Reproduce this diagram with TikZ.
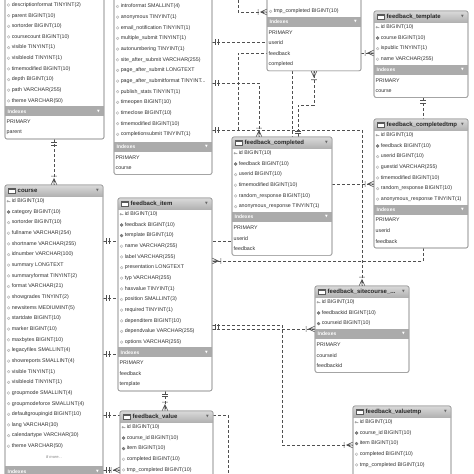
\documentclass[tikz,border=0pt]{standalone}
\usepackage{fontspec}
\setmainfont{Liberation Sans}
\newfontfamily\symf{DejaVu Sans}
\usetikzlibrary{fit}
\pgfdeclarelayer{bg}
\pgfdeclarelayer{lines}
\pgfsetlayers{bg,lines,main}
\definecolor{framec}{HTML}{A4A4A4}
\definecolor{titletop}{HTML}{DADADA}
\definecolor{titlebot}{HTML}{B2B2B2}
\definecolor{idxc}{HTML}{ABABAB}
\definecolor{txtc}{HTML}{303030}
\definecolor{linec}{HTML}{505050}
\definecolor{keyc}{HTML}{9A9A9A}
\definecolor{fkc}{HTML}{8A8A8A}
\tikzset{
 rowtext/.style={anchor=west, inner sep=0pt, font=\fontsize{5.3}{6}\selectfont, text=txtc},
 moretext/.style={anchor=center, inner sep=0pt, font=\fontsize{4}{5}\selectfont\itshape, text=gray},
 titletext/.style={anchor=west, inner sep=0pt, font=\fontsize{6}{7}\selectfont\bfseries, text=black!85},
 idxtext/.style={anchor=west, inner sep=0pt, font=\fontsize{5}{6}\selectfont\bfseries, text=white},
 tri/.style={inner sep=0pt, font=\symf\fontsize{3.5}{4}\selectfont},
 conn/.style={draw=linec, dash pattern=on 3pt off 2pt, line width=.6pt},
 mk/.style={draw=linec, line width=.6pt, solid},
 tframe/.style={draw=framec, line width=.7pt, fill=white, rounded corners=2pt, inner sep=0pt},
}
\def\dbdash{-}
\newcommand\tdots{...}
\newcommand\rowicon[3]{%
 \if k#1
   \draw[keyc, line width=.45pt] (#2-0.8,#3) circle (0.8pt) (#2,#3) -- (#2+1.7,#3) (#2+1.3,#3)--(#2+1.3,#3+0.9);
 \else\if f#1
   \draw[fill=fkc, draw=fkc!70!black, line width=.3pt] (#2,#3-1.5)--(#2+1.5,#3)--(#2,#3+1.5)--(#2-1.5,#3)--cycle;
 \else
   \draw[fill=gray!12, draw=gray!65, line width=.3pt] (#2,#3-1.4)--(#2+1.4,#3)--(#2,#3+1.4)--(#2-1.4,#3)--cycle;
 \fi\fi}
% #1 name #2 x1 #3 x2 #4 top #5 title #6 hidden rows #7 rows #8 index rows #9 extra
\newcommand\dbtable[9]{%
  \def\dbidx{#8}\def\dbtitle{#5}%
  \xdef\nr{0}\foreach \ra/\rb [count=\rc] in {#7} {\xdef\nr{\rc}}%
  \xdef\ni{0}%
  \ifx\dbidx\empty\else\ifx\dbidx\dbdash\else
     \foreach \ra [count=\rc] in {#8} {\xdef\ni{\rc}}\fi\fi
  \pgfmathsetmacro\barT{#4+11+10.65*(#6+\nr)+#9}%
  \pgfmathsetmacro\bot{\barT+10+10.65*\ni+1.5}%
  \ifx\dbidx\empty \pgfmathsetmacro\bot{\barT+20}\fi
  \node[tframe, fit={(#2,#4) (#3,\bot)}] (#1) {};
  \begin{scope}
    \clip[rounded corners=2pt] (#2,#4) rectangle (#3,\bot);
    \fill[top color=titletop, bottom color=titlebot] (#2,#4) rectangle (#3,#4+11);
    \ifx\dbidx\empty\else \fill[idxc] (#2,\barT) rectangle (#3,\barT+10); \fi
  \end{scope}
  \draw[framec, line width=.7pt, rounded corners=2pt] (#2,#4) rectangle (#3,\bot);
  \ifx\dbtitle\empty\else
    \draw[gray!70!black, fill=white, line width=.4pt] (#2+3.5,#4+2.8) rectangle (#2+10,#4+8.4);
    \draw[gray!70!black, line width=.3pt] (#2+3.5,#4+4.2) -- (#2+10,#4+4.2);
    \node[titletext] at (#2+12.5,#4+5.7) {#5};
    \node[tri, text=gray!80!black] at (#3-5.5,#4+5.5) {▼};
  \fi
  \foreach \ra/\rb [count=\rc from 0] in {#7} {%
    \pgfmathsetmacro\yy{#4+16.3+10.65*(#6+\rc)}%
    \if m\ra
      \node[moretext] at ({(#2+#3)/2},\yy) {\rb};
    \else
      \rowicon{\ra}{#2+3.6}{\yy}
      \node[rowtext] at (#2+6.6,\yy) {\rb};
    \fi}
  \ifx\dbidx\empty\else
    \node[idxtext] at (#2+2.5,\barT+5.2) {Indexes};
    \node[tri, text=white] at (#3-5.5,\barT+5) {▼};
    \ifx\dbidx\dbdash\else
      \foreach \ra [count=\rc from 0] in {#8} {%
        \node[rowtext] at (#2+1.5,\barT+10+5.6+10.65*\rc) {\ra};}
    \fi
  \fi
}
\newcommand\many[2]{\begin{scope}[shift={(#1)},rotate=#2]\draw[mk] (0,2.8)--(6,0)--(0,-2.8) (0,0)--(6,0) (8.5,2.8)--(8.5,-2.8);\end{scope}}
\newcommand\one[2]{\begin{scope}[shift={(#1)},rotate=#2]\draw[mk] (3,2.8)--(3,-2.8) (5.5,2.8)--(5.5,-2.8);\end{scope}}
\begin{document}
\begin{tikzpicture}[x=1pt,y=-1pt]
\useasboundingbox (0,0) rectangle (474,474);
\begin{pgfonlayer}{bg}\fill[white] (0,0) rectangle (474,474);\end{pgfonlayer}

\dbtable{cc}{5}{104}{-53.9}{}{4}{o/descriptionformat TINYINT(2), o/parent BIGINT(10), o/sortorder BIGINT(10), o/coursecount BIGINT(10), o/visible TINYINT(1), o/visibleold TINYINT(1), o/timemodified BIGINT(10), o/depth BIGINT(10), o/path VARCHAR(255), o/theme VARCHAR(50)}{PRIMARY, parent}{0}

\dbtable{fb}{114}{212}{-52.4}{}{4}{o/introformat SMALLINT(4), o/anonymous TINYINT(1), o/email\_notification TINYINT(1), o/multiple\_submit TINYINT(1), o/autonumbering TINYINT(1), o/site\_after\_submit VARCHAR(255), o/page\_after\_submit LONGTEXT, o/page\_after\_submitformat TINYINT\tdots, o/publish\_stats TINYINT(1), o/timeopen BIGINT(10), o/timeclose BIGINT(10), o/timemodified BIGINT(10), o/completionsubmit TINYINT(1)}{PRIMARY, course}{2}

\dbtable{tr}{267}{361}{-47.5}{}{4}{o/tmp\_completed BIGINT(10)}{PRIMARY, userid, feedback, completed}{0}

\dbtable{tp}{374}{468}{11}{feedback\_template}{0}{k/id BIGINT(10), f/course BIGINT(10), o/ispublic TINYINT(1), o/name VARCHAR(255)}{PRIMARY, course}{0}

\dbtable{ct}{374}{468}{119}{feedback\_completedtmp}{0}{k/id BIGINT(10), f/feedback BIGINT(10), o/userid BIGINT(10), o/guestid VARCHAR(255), o/timemodified BIGINT(10), o/random\_response BIGINT(10), o/anonymous\_response TINYINT(1)}{PRIMARY, userid, feedback}{0}

\dbtable{cp}{232}{332}{137}{feedback\_completed}{0}{k/id BIGINT(10), f/feedback BIGINT(10), o/userid BIGINT(10), o/timemodified BIGINT(10), o/random\_response BIGINT(10), o/anonymous\_response TINYINT(1)}{PRIMARY, userid, feedback}{0}

\dbtable{co}{5}{103}{185}{course}{0}{k/id BIGINT(10), f/category BIGINT(10), o/sortorder BIGINT(10), o/fullname VARCHAR(254), o/shortname VARCHAR(255), o/idnumber VARCHAR(100), o/summary LONGTEXT, o/summaryformat TINYINT(2), o/format VARCHAR(21), o/showgrades TINYINT(2), o/newsitems MEDIUMINT(5), o/startdate BIGINT(10), o/marker BIGINT(10), o/maxbytes BIGINT(10), o/legacyfiles SMALLINT(4), o/showreports SMALLINT(4), o/visible TINYINT(1), o/visibleold TINYINT(1), o/groupmode SMALLINT(4), o/groupmodeforce SMALLINT(4), o/defaultgroupingid BIGINT(10), o/lang VARCHAR(30), o/calendartype VARCHAR(30), o/theme VARCHAR(50), m/8 more\tdots}{-}{4}

\dbtable{it}{118}{212}{198}{feedback\_item}{0}{k/id BIGINT(10), f/feedback BIGINT(10), f/template BIGINT(10), o/name VARCHAR(255), o/label VARCHAR(255), o/presentation LONGTEXT, o/typ VARCHAR(255), o/hasvalue TINYINT(1), o/position SMALLINT(3), o/required TINYINT(1), o/dependitem BIGINT(10), o/dependvalue VARCHAR(255), o/options VARCHAR(255)}{PRIMARY, feedback, template}{0}

\dbtable{va}{120}{213}{411}{feedback\_value}{0}{k/id BIGINT(10), f/course\_id BIGINT(10), f/item BIGINT(10), o/completed BIGINT(10), o/tmp\_completed BIGINT(10)}{}{0}

\dbtable{sm}{315}{409}{286}{feedback\_sitecourse\_\tdots}{0}{k/id BIGINT(10), f/feedbackid BIGINT(10), f/courseid BIGINT(10)}{PRIMARY, courseid, feedbackid}{0}

\dbtable{vt}{353}{451}{406}{feedback\_valuetmp}{0}{k/id BIGINT(10), f/course\_id BIGINT(10), f/item BIGINT(10), o/completed BIGINT(10), o/tmp\_completed BIGINT(10)}{}{0}

\coordinate (topA) at (238,-5);
\coordinate (jA) at (238,130);
\coordinate (bendB) at (314,105);
\coordinate (downC) at (228,480);
\coordinate (bendD) at (282,325);
\begin{pgfonlayer}{lines}
\draw[conn] (cc.south -| 54,0) -- (co.north -| 54,0);
\draw[conn] (topA) |- (tr.west |- 0,12);
\draw[conn] (fb.east |- 0,42) -- (tr.west |- 0,42);
\draw[conn] (jA) |- (tp.west |- 0,53);
\draw[conn] (fb.east |- 0,83) -| (cp.north -| 259,0);
\draw[conn] (fb.east |- 0,130) -| (sm.north -| 362,0);
\draw[conn] (cp.east |- 0,184) -- (ct.west |- 0,184);
\draw[conn] (cp.north -| 298,0) |- (bendB) -- (tr.south -| bendB);
\draw[conn] (tr.south -| 292,0) -- (cp.north -| 292,0);
\draw[conn] (tp.south -| 423,0) |- (it.east |- 0,261);
\draw[conn] (co.east |- 0,241) -- (cp.west |- 0,241);
\draw[conn] (co.east |- 0,298) -- (it.west |- 0,298);
\draw[conn] (co.east |- 0,354) -- (it.west |- 0,354);
\draw[conn] (co.east |- 0,415) -| (downC);
\draw[conn] (co.east |- 0,470) -- (va.west |- 0,470);
\draw[conn] (it.south -| 165,0) -- (va.north -| 165,0);
\draw[conn] (it.east |- bendD) -- (bendD) |- (vt.west |- 0,445);
\draw[conn] (it.east |- 0,329) -- (sm.west |- 0,329);
\end{pgfonlayer}
\one{cc.south -| 54,0}{270}
\many{co.north -| 54,0}{90}
\many{tr.west |- 0,12}{180}
\one{fb.east |- 0,42}{0}
\many{tp.west |- 0,53}{180}
\one{fb.east |- 0,83}{0}
\many{cp.north -| 259,0}{90}
\one{fb.east |- 0,130}{0}
\many{sm.north -| 362,0}{90}
\many{ct.west |- 0,184}{180}
\one{cp.north -| 298,0}{90}
\many{tr.south -| bendB}{270}
\one{tp.south -| 423,0}{270}
\many{it.east |- 0,261}{0}
\one{co.east |- 0,241}{0}
\one{co.east |- 0,298}{0}
\one{co.east |- 0,354}{0}
\one{co.east |- 0,415}{0}
\one{co.east |- 0,470}{0}
\many{va.west |- 0,470}{180}
\one{it.south -| 165,0}{270}
\many{va.north -| 165,0}{90}
\one{it.east |- 0,327}{0}
\many{vt.west |- 0,445}{180}
\many{sm.west |- 0,329}{180}
\end{tikzpicture}
\end{document}
